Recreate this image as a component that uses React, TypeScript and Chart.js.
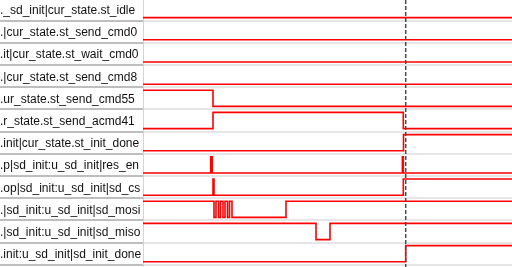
import React, { useEffect, useRef } from 'react';
import { Chart, registerables } from 'chart.js';

Chart.register(...registerables);

// Signal names as shown (left-truncated in the viewer)
const signalNames = [
  '._sd_init|cur_state.st_idle',
  '.|cur_state.st_send_cmd0',
  '.it|cur_state.st_wait_cmd0',
  '.|cur_state.st_send_cmd8',
  '.ur_state.st_send_cmd55',
  '.r_state.st_send_acmd41',
  '.init|cur_state.st_init_done',
  '.p|sd_init:u_sd_init|res_en',
  '.op|sd_init:u_sd_init|sd_cs',
  '.|sd_init:u_sd_init|sd_mosi',
  '.|sd_init:u_sd_init|sd_miso',
  '.init:u_sd_init|sd_init_done',
];

// Level at time 0 (1 = high, 0 = low)
const initialLevels = [0, 0, 0, 0, 1, 0, 0, 0, 0, 1, 1, 0];

// Times at which each signal toggles
const edgeTimes: number[][] = [
  [],
  [],
  [],
  [],
  [70],
  [70, 260.3],
  [260.5],
  [67.7, 69.3, 259.4, 260.3],
  [70, 71, 260.3],
  [71, 73, 75.5, 77.5, 80, 82, 84.5, 86.5, 89, 143],
  [173, 187],
  [262.7],
];

const timeMax = 369;
const cursorTime = 262.7;

const ROW_PX = 22.2;
const CHART_H = 267;
const yMin = 1.5 / ROW_PX;
const yMax = yMin + CHART_H / ROW_PX;
const HIGH_OFF = 0.13;
const LOW_OFF = 0.86;

export default function App() {
  const canvasRef = useRef<HTMLCanvasElement | null>(null);

  useEffect(() => {
    document.body.style.margin = '0';
    const canvas = canvasRef.current;
    if (!canvas) return;

    const signalDatasets = signalNames.map((name, row) => {
      let level = initialLevels[row];
      const yOf = (l: number) => row + (l ? HIGH_OFF : LOW_OFF);
      const pts: { x: number; y: number }[] = [{ x: 0, y: yOf(level) }];
      for (const t of edgeTimes[row]) {
        level = level ? 0 : 1;
        pts.push({ x: t, y: yOf(level) });
      }
      pts.push({ x: timeMax, y: yOf(level) });
      return {
        label: name,
        data: pts,
        stepped: true as const,
        borderColor: '#ff0000',
        borderWidth: 1.6,
        pointRadius: 0,
        fill: false,
      };
    });

    const cursorDataset = {
      label: 'cursor',
      data: [
        { x: cursorTime, y: yMin },
        { x: cursorTime, y: yMax },
      ],
      borderColor: '#4a4a4a',
      borderWidth: 1.5,
      borderDash: [4, 2],
      pointRadius: 0,
      fill: false,
    };

    const chart = new Chart(canvas, {
      type: 'line',
      data: { datasets: [cursorDataset, ...signalDatasets] as any },
      options: {
        animation: false,
        responsive: true,
        maintainAspectRatio: false,
        layout: { padding: 0 },
        plugins: { legend: { display: false }, tooltip: { enabled: false } },
        scales: {
          x: {
            type: 'linear',
            display: false,
            min: 0,
            max: timeMax,
          },
          y: {
            type: 'linear',
            reverse: true,
            min: yMin,
            max: yMax,
            afterBuildTicks: (scale: any) => {
              scale.ticks = Array.from({ length: signalNames.length + 1 }, (_, i) => ({ value: i }));
            },
            afterFit: (scale: any) => {
              scale.width = 143;
              scale.paddingTop = 0;
              scale.paddingBottom = 0;
            },
            grid: {
              color: '#e6e6e6',
              lineWidth: 2,
              tickColor: '#a8a8a8',
              tickWidth: 1.5,
              tickLength: 143,
            },
            border: { display: true, color: '#d4d4d4', width: 1 },
            ticks: {
              autoSkip: false,
              crossAlign: 'far',
              labelOffset: ROW_PX / 2 + 1,
              padding: 0,
              color: '#111111',
              font: { family: "'Liberation Sans', Arial, sans-serif", size: 12 },
              callback: (value: any) => signalNames[value as number] ?? '',
            },
          },
        },
      },
    });

    return () => chart.destroy();
  }, []);

  return (
    <div style={{ position: 'relative', width: 512, height: 267, background: '#ffffff' }}>
      <canvas ref={canvasRef} />
    </div>
  );
}
